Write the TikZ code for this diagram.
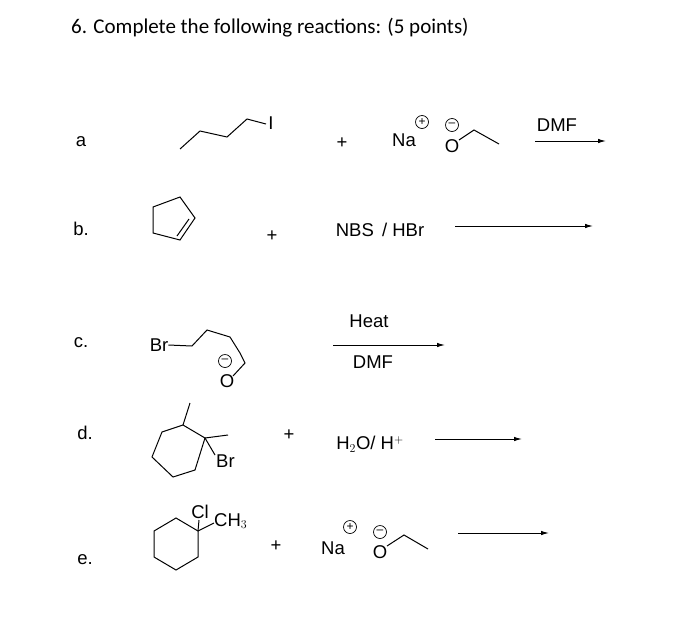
\documentclass[tikz,border=0pt]{standalone}
\usepackage{fontspec}
\setmainfont{Liberation Sans}
\newfontfamily\calib{Carlito}
\usetikzlibrary{arrows.meta}
\begin{document}
\begin{tikzpicture}[x=1pt,y=-1pt,
  bond/.style={line width=1pt},
  lbl/.style={inner sep=0pt,font=\fontsize{18.5}{18.5}\selectfont},
  rarrow/.style={line width=1pt,-{Latex[length=8pt,width=4.5pt]}},
  chg/.style={circle,draw,line width=0.7pt,inner sep=0pt,minimum size=13pt,font=\fontsize{12}{12}\selectfont}]
\useasboundingbox (0,0) rectangle (700,616);
\node[anchor=west,inner sep=0pt,font=\calib\fontsize{21}{21}\selectfont] (title) at (71,28) {6. Complete the following reactions: (5 points)};
% a
\node[lbl] (la) at (81,142) {a};
\draw[bond] (180,149)--(200,131)--(227,137)--(247,119)--(266,124);
\node[lbl] (I) at (271,123) {I};
\node[lbl] (pa) at (342,143) {+};
\node[lbl] (naa) at (404,140) {Na};
\node[chg] (cpa) at (422,122) {+};
\node[chg] (cma) at (452,125) {--};
\node[lbl] (oa) at (452,146) {O};
\draw[bond] (459,140)--(474,130)--(499,144);
\node[lbl] (dmfa) at (557,125) {DMF};
\coordinate (a1) at (535,141); \coordinate (a2) at (606,141);
\draw[rarrow] (a1)--(a2);
% b
\node[lbl] (lb) at (81,229) {b.};
\draw[bond] (153,207)--(180,197)--(195,218)--(180,240)--(153,233)--cycle;
\draw[bond] (189,219)--(177,236);
\node[lbl] (pb) at (272,236) {+};
\node[lbl] (nbs) at (380,230) {NBS \,/ HBr};
\coordinate (b1) at (455,226); \coordinate (b2) at (593,226);
\draw[rarrow] (b1)--(b2);
% c
\node[lbl] (lc) at (81,343) {c.};
\node[lbl] (brc) at (159,345) {Br};
\node[lbl] (oc) at (227,381) {O};
\node[chg] (cmc) at (225,361) {--};
\draw[bond] (brc.east)--(192,346)--(207,330)--(230,337)--(240,353)--(245,363)--(233,376);
\node[lbl] (heat) at (369,321) {Heat};
\coordinate (c1) at (333,345); \coordinate (c2) at (445,345);
\draw[rarrow] (c1)--(c2);
\node[lbl] (dmfc) at (373,362) {DMF};
% d
\node[lbl] (ld) at (85,433) {d.};
\draw[bond] (183,425)--(205,438)--(195,470)--(173,477)--(152,457)--(162,432)--cycle;
\draw[bond] (183,425)--(190,403);
\draw[bond] (205,438)--(228,435);
\node[lbl,anchor=north west] (brd) at (216,455) {Br};
\draw[bond] (205,438)--(215,455);
\node[lbl] (pd) at (289,435) {+};
\node[lbl] (h2o) at (370,444) {H$_2$O/ H$^+$};
\coordinate (d1) at (435,439); \coordinate (d2) at (522,439);
\draw[rarrow] (d1)--(d2);
% e
\node[lbl] (le) at (85,560) {e.};
\draw[bond] (176,518)--(198,531)--(198,557)--(176,570)--(154,557)--(154,531)--cycle;
\node[lbl] (cl) at (200,512) {Cl};
\node[lbl,anchor=west] (ch3) at (214,521) {CH$_3$};
\draw[bond] (198,531)--(199,520);
\draw[bond] (198,531)--(214,523);
\node[lbl] (pe) at (276,546) {+};
\node[lbl] (nae) at (333,548) {Na};
\node[chg] (cpe) at (350,527) {+};
\node[chg] (cme) at (380,532) {--};
\node[lbl] (oe) at (380,552) {O};
\draw[bond] (387,546)--(404,535)--(428,549);
\coordinate (e1) at (458,533); \coordinate (e2) at (549,533);
\draw[rarrow] (e1)--(e2);
\end{tikzpicture}
\end{document}
